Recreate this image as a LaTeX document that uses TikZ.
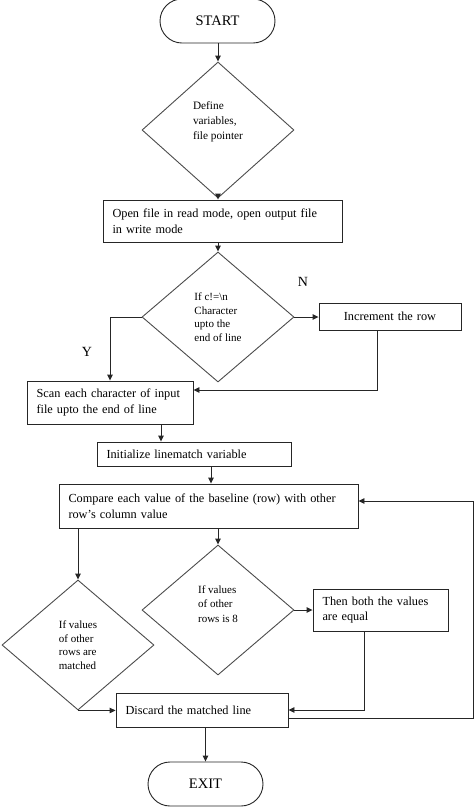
\documentclass[tikz,border=0pt]{standalone}
\usepackage{fontspec}
\setmainfont{Liberation Serif}
\usetikzlibrary{shapes.geometric,shapes.misc,arrows.meta}
\begin{document}
\begin{tikzpicture}[x=1pt,y=-1pt,line width=0.9pt,
  term/.style={draw=black!85, rounded rectangle, minimum width=115pt, minimum height=44pt, inner sep=0pt, font=\fontsize{14.5}{16}\selectfont},
  dia/.style={draw=black!70, diamond, minimum width=152pt, minimum height=130pt, inner sep=0pt, align=left, font=\fontsize{11}{13.5}\selectfont},
  box/.style={draw=black!85, rectangle, align=left, inner xsep=9.5pt, inner ysep=1pt, font=\fontsize{12.3}{15.5}\selectfont},
  lbl/.style={font=\fontsize{14}{16}\selectfont, inner sep=0pt},
  arr/.style={draw=black!85, -{Triangle[length=6pt,width=5.5pt]}}]
\fill[white] (0,0) rectangle (474,807);
\useasboundingbox (0,0) rectangle (474,807);

\node[term] (start) at (217.5,21) {START};
\node[dia, minimum height=136pt, font=\fontsize{11.3}{15}\selectfont, text depth=19pt] (d1) at (218,130) {Define\\variables,\\file pointer};
\node[box, text width=220pt, minimum height=42pt] (open) at (222.5,221) {Open file in read mode, open output file\\in write mode};
\node[dia] (d2) at (218,317) {If c!=\textbackslash n\\Character\\upto the\\end of line};
\node[box, align=center, text width=123pt, minimum height=27pt] (inc) at (390,316.5) {Increment the row};
\node[box, text width=147pt, minimum height=43pt] (scan) at (110,402.5) {Scan each character of input\\file upto the end of line};
\node[box, text width=175pt, minimum height=24pt] (init) at (194,454) {Initialize linematch variable};
\node[box, text width=280pt, minimum height=44pt] (cmp) at (208.5,506) {Compare each value of the baseline (row) with other\\row’s column value};
\node[dia, font=\fontsize{11}{14.5}\selectfont, text depth=12pt] (d4) at (218,610) {If values\\of other\\rows is 8};
\node[box, text width=116pt, minimum height=42pt] (then) at (380.5,610) {Then both the values\\are equal};
\node[dia] (d3) at (78,645) {If values\\of other\\rows are\\matched};
\node[box, text width=153pt, minimum height=34pt] (disc) at (202,710) {Discard the matched line};
\node[term] (exit) at (205.5,784) {EXIT};
\node[lbl] (N) at (303,282) {N};
\node[lbl] (Y) at (87,352) {Y};

\coordinate (ib) at ([xshift=-13pt]inc.south);
\coordinate (sr) at ([yshift=12.5pt]scan.east);
\coordinate (sb) at ([xshift=51pt]scan.south);
\coordinate (nb) at ([xshift=17pt]init.south);
\coordinate (tb) at ([xshift=-16.5pt]then.south);
\coordinate (dr) at ([yshift=-8pt]disc.east);
\coordinate (cr) at ([yshift=5pt]cmp.east);
\coordinate (lx) at (473,0);

\draw[arr] (d1.north |- start.south) -- (d1.north);
\draw[arr] (d1.south) -- (d1.south |- open.north);
\draw[arr] (open.south -| d2.north) -- (d2.north);
\draw[arr] (d2.east) -- (d2.east -| inc.west);
\draw[arr] (d2.west) -| (scan.north);
\draw[arr] (ib) |- (sr);
\draw[arr] (sb) -- (sb |- init.north);
\draw[arr] (nb) -- (nb |- cmp.north);
\draw[arr] (cmp.south -| d4.north) -- (d4.north);
\draw[arr] (cmp.south -| d3.north) -- (d3.north);
\draw[arr] (d4.east) -- (d4.east -| then.west);
\draw[arr] (d3.south) -- (d3.south -| disc.west);
\draw[arr] (tb) |- (disc.east);
\draw[arr] (dr) -- (dr -| lx) |- (cr);
\draw[arr] (disc.south -| exit.north) -- (exit.north);
\end{tikzpicture}
\end{document}
